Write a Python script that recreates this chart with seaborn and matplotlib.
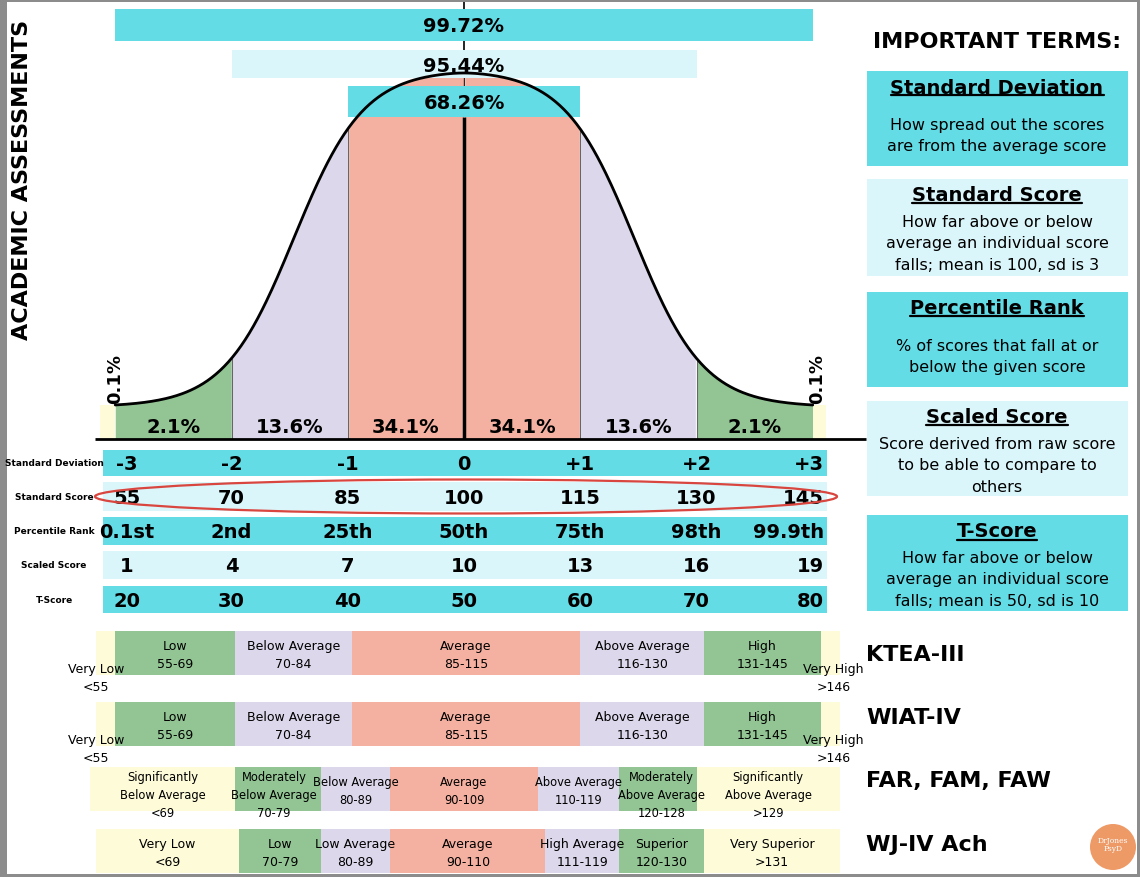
import numpy as np
import matplotlib.pyplot as plt
import matplotlib.patches as mpatches
import seaborn as sns

# ---- chart values ----
sd_labels = ["-3", "-2", "-1", "0", "+1", "+2", "+3"]
standard_scores = [55, 70, 85, 100, 115, 130, 145]
percentile_ranks = ["0.1st", "2nd", "25th", "50th", "75th", "98th", "99.9th"]
scaled_scores = [1, 4, 7, 10, 13, 16, 19]
t_scores = [20, 30, 40, 50, 60, 70, 80]

area_pct = ["2.1%", "13.6%", "34.1%", "34.1%", "13.6%", "2.1%"]
tail_pct = "0.1%"
coverage_sd = [3, 2, 1]
coverage_pct = ["99.72%", "95.44%", "68.26%"]

row_names = ["Standard Deviation", "Standard Score", "Percentile Rank", "Scaled Score", "T-Score"]

ktea_labels = ["Very Low", "Low", "Below Average", "Average", "Above Average", "High", "Very High"]
ktea_ranges = ["<55", "55-69", "70-84", "85-115", "116-130", "131-145", ">146"]
ktea_edges = [52.5, 55, 70.5, 85.5, 115, 131, 146, 148.5]

wiat_labels = ["Very Low", "Low", "Below Average", "Average", "Above Average", "High", "Very High"]
wiat_ranges = ["<55", "55-69", "70-84", "85-115", "116-130", "131-145", ">146"]
wiat_edges = [52.5, 55, 70.5, 85.5, 115, 131, 146, 148.5]

far_labels = ["Significantly\nBelow Average", "Moderately\nBelow Average", "Below Average", "Average",
              "Above Average", "Moderately\nAbove Average", "Significantly\nAbove Average"]
far_ranges = ["<69", "70-79", "80-89", "90-109", "110-119", "120-128", ">129"]
far_edges = [51.7, 70.5, 81.5, 90.5, 109.5, 120, 130, 148.5]

wj_labels = ["Very Low", "Low", "Low Average", "Average", "High Average", "Superior", "Very Superior"]
wj_ranges = ["<69", "70-79", "80-89", "90-110", "111-119", "120-130", ">131"]
wj_edges = [52.5, 71, 81.5, 90.5, 110.5, 120, 131, 148.5]

term_titles = ["Standard Deviation", "Standard Score", "Percentile Rank", "Scaled Score", "T-Score"]
term_texts = [
    "How spread out the scores\nare from the average score",
    "How far above or below\naverage an individual score\nfalls; mean is 100, sd is 3",
    "% of scores that fall at or\nbelow the given score",
    "Score derived from raw score\nto be able to compare to\nothers",
    "How far above or below\naverage an individual score\nfalls; mean is 50, sd is 10",
]

# ---- styles ----
CYAN = "#63DCE6"
LIGHT = "#DBF6FA"
YELLOW = "#FDFBD8"
GREEN = "#93C594"
LAVENDER = "#DDD7EB"
SALMON = "#F4B1A1"
band_colors = [YELLOW, GREEN, LAVENDER, SALMON, LAVENDER, GREEN, YELLOW]
area_colors = [GREEN, LAVENDER, SALMON, SALMON, LAVENDER, GREEN]

sns.set_theme(style="white")
plt.rcParams["font.family"] = ["DejaVu Sans"]
plt.rcParams["text.color"] = "black"

W, H = 1140, 878
PX0, PX_PER = 311, 7.75   # pixel = score * PX_PER - PX0


def to_score(px):
    return (px + PX0) / PX_PER


fig = plt.figure(figsize=(W / 100, H / 100), dpi=100)
fig.patch.set_facecolor("white")
ax = fig.add_axes([0, 0, 1, 1])
ax.set_xlim(to_score(0), to_score(W))
ax.set_ylim(H, 0)
ax.axis("off")
ax_px = fig.add_axes([0, 0, 1, 1], facecolor="none")
ax_px.set_xlim(0, W)
ax_px.set_ylim(H, 0)
ax_px.axis("off")

BASE = 440
mean_score = standard_scores[3]
sd_score = standard_scores[4] - standard_scores[3]


def curve_height(s):
    z = np.sqrt(((np.asarray(s) - mean_score) / sd_score) ** 2 + 0.02)
    return 32 + 338 / (1 + np.exp((z - 1.47) / 0.3))


# ---- bell curve ----
grid = np.linspace(standard_scores[0], standard_scores[-1], 500)
curve_y = BASE - curve_height(grid)
for i, col in enumerate(area_colors):
    lo, hi = standard_scores[i], standard_scores[i + 1]
    m = (grid >= lo) & (grid <= hi)
    ax.fill_between(grid[m], curve_y[m], BASE, color=col, lw=0, zorder=1)
    ax.text((lo + hi) / 2, 428, area_pct[i], ha="center", va="center",
            fontsize=14, fontweight="bold", zorder=6)
tail_top = BASE - curve_height(standard_scores[0])
ax.barh((tail_top + BASE) / 2, standard_scores[0] - to_score(100), left=to_score(100),
        height=BASE - tail_top, color=YELLOW, lw=0, zorder=1)
ax.barh((tail_top + BASE) / 2, to_score(826) - standard_scores[-1], left=standard_scores[-1],
        height=BASE - tail_top, color=YELLOW, lw=0, zorder=1)
for s in standard_scores[1:-1]:
    if s != mean_score:
        ax.vlines(s, BASE - curve_height(s), BASE, color="#666666", lw=0.8, zorder=2)
sns.lineplot(x=grid, y=curve_y, ax=ax, color="black", linewidth=2, zorder=4)
ax.vlines(mean_score, 0, 118, color="black", lw=1.2, zorder=0.5)
ax.vlines(mean_score, 118, BASE, color="black", lw=2.5, zorder=3)
ax.text(standard_scores[0], tail_top - 2, tail_pct, rotation=90, ha="center", va="bottom",
        fontsize=13, fontweight="bold", zorder=6)
ax.text(standard_scores[-1] + 0.6, tail_top - 2, tail_pct, rotation=90, ha="center", va="bottom",
        fontsize=13, fontweight="bold", zorder=6)
ax.hlines(BASE, to_score(95), to_score(866), color="black", lw=2, zorder=5)

# coverage bars on top
cov_y = [(10, 42, CYAN), (51, 79, LIGHT), (87, 118, CYAN)]
for (k, pct), (y0, y1, col) in zip(zip(coverage_sd, coverage_pct), cov_y):
    lo, hi = mean_score - k * sd_score, mean_score + k * sd_score
    ax.barh((y0 + y1) / 2, hi - lo, left=lo, height=y1 - y0, color=col, lw=0, zorder=3)
    ax.text(mean_score, (y0 + y1) / 2 + 1, pct, ha="center", va="center",
            fontsize=14, fontweight="bold", zorder=6)

# ---- score table ----
row_values = [sd_labels, standard_scores, percentile_ranks, scaled_scores, t_scores]
row_spans = [(451, 477), (483, 512), (518, 546), (552, 580), (587, 614)]
row_cols = [CYAN, LIGHT, CYAN, LIGHT, CYAN]
col_x = list(standard_scores)
col_x[0] = to_score(127)
for name, vals, (y0, y1), col in zip(row_names, row_values, row_spans, row_cols):
    yc = (y0 + y1) / 2
    ax.barh(yc, to_score(827) - to_score(103), left=to_score(103), height=y1 - y0,
            color=col, lw=0, zorder=1)
    ax_px.text(54, yc, name, ha="center", va="center", fontsize=6.5, fontweight="bold")
    for j, v in enumerate(vals):
        if j == len(vals) - 1:
            ax.text(to_score(824), yc + 1, str(v), ha="right", va="center",
                    fontsize=14, fontweight="bold", zorder=4)
        else:
            ax.text(col_x[j], yc + 1, str(v), ha="center", va="center",
                    fontsize=14, fontweight="bold", zorder=4)
ell_y = (row_spans[1][0] + row_spans[1][1]) / 2
ax.add_patch(mpatches.Ellipse((to_score(466), ell_y), to_score(838) - to_score(96), 34,
                              fill=False, ec="#D9463F", lw=1.6, zorder=5))

# ---- assessment bands ----
tests = [
    ("KTEA-III", ktea_labels, ktea_ranges, ktea_edges, 632, 655, True, 9),
    ("WIAT-IV", wiat_labels, wiat_ranges, wiat_edges, 703, 718, True, 9),
    ("FAR, FAM, FAW", far_labels, far_ranges, far_edges, 768, 781, False, 8.3),
    ("WJ-IV Ach", wj_labels, wj_ranges, wj_edges, 830, 845, False, 9),
]
BAND_H = 44
for title, labels, ranges, edges, top, label_y, outside_ends, fs in tests:
    for i in range(len(labels)):
        lo, hi = edges[i], edges[i + 1]
        ax.barh(top + BAND_H / 2, hi - lo, left=lo, height=BAND_H,
                color=band_colors[i], lw=0, zorder=1)
        txt = labels[i] + "\n" + ranges[i]
        if outside_ends and i == 0:
            ax.text(lo, top + 31, txt, ha="center", va="top", fontsize=fs,
                    linespacing=1.5, zorder=4)
        elif outside_ends and i == len(labels) - 1:
            ax.text(hi - 0.8, top + 31, txt, ha="center", va="top", fontsize=fs,
                    linespacing=1.5, zorder=4)
        else:
            # labels of 3 lines sit a little higher, and are pushed away from the middle
            n_lines = txt.count("\n") + 1
            cx = (lo + hi) / 2
            if n_lines == 3 and 0 < i < len(labels) - 1:
                cx += -0.5 if cx < mean_score else 0.5
            ax.text(cx, top + (3 if n_lines == 3 else 8), txt, ha="center", va="top",
                    fontsize=fs, linespacing=1.5, zorder=4)
    ax_px.text(866, label_y, title, ha="left", va="center", fontsize=16, fontweight="bold")

# ---- side panel ----
ax_px.text(22, 180, "ACADEMIC ASSESSMENTS", rotation=90, ha="center", va="center",
           fontsize=16, fontweight="bold")
ax_px.text(997, 42, "IMPORTANT TERMS:", ha="center", va="center", fontsize=16, fontweight="bold")
box_spans = [(72, 167), (180, 277), (293, 388), (402, 497), (516, 612)]
box_cols = [CYAN, LIGHT, CYAN, LIGHT, CYAN]
title_artists = []
for ttl, desc, (y0, y1), col in zip(term_titles, term_texts, box_spans, box_cols):
    ax_px.add_patch(mpatches.Rectangle((867, y0), 261, y1 - y0, color=col, lw=0))
    t = ax_px.text(997, y0 + 16, ttl, ha="center", va="center", fontsize=14, fontweight="bold")
    title_artists.append(t)
    ax_px.text(997, y0 + 64, desc, ha="center", va="center", fontsize=11.5, linespacing=1.55)

# logo
ax_px.add_patch(mpatches.Circle((1113, 848), 23, color="#EE9A66", lw=0))
ax_px.text(1113, 845, "DrJones\nPsyD", ha="center", va="center", fontsize=5.5,
           color="white", family="DejaVu Serif", linespacing=1.0)

# page border
for x0, y0, w, h in [(0, 0, 7, H), (0, 0, W, 3), (W - 3, 0, 3, H), (0, H - 3, W, 3)]:
    ax_px.add_patch(mpatches.Rectangle((x0, y0), w, h, color="#8C8C8C", lw=0))

# underline the term titles
fig.canvas.draw()
renderer = fig.canvas.get_renderer()
inv = ax_px.transData.inverted()
for t in title_artists:
    bb = t.get_window_extent(renderer)
    (xa, ya), (xb, _) = inv.transform([(bb.x0, bb.y0), (bb.x1, bb.y0)])
    ax_px.plot([xa, xb], [ya - 1, ya - 1], color="black", lw=1.6)

fig.savefig("out.png", dpi=100, facecolor="white")
